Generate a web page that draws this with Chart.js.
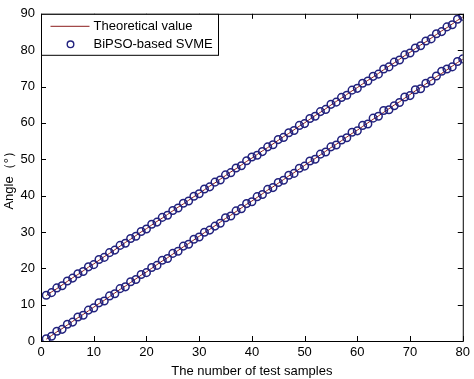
<!DOCTYPE html>
<html>
<head>
<meta charset="utf-8">
<script src="https://cdn.jsdelivr.net/npm/chart.js@4/dist/chart.umd.min.js"></script>
<style>
  html, body { margin: 0; padding: 0; background: #fff; }
  #wrap { width: 474px; height: 379px; }
</style>
</head>
<body>
<div id="wrap"><canvas id="angleChart" width="474" height="379"></canvas></div>
<script>
/* ===============================
   DATA
================================ */
const samples = [1,2,3,4,5,6,7,8,9,10,11,12,13,14,15,16,17,18,19,20,
  21,22,23,24,25,26,27,28,29,30,31,32,33,34,35,36,37,38,39,40,
  41,42,43,44,45,46,47,48,49,50,51,52,53,54,55,56,57,58,59,60,
  61,62,63,64,65,66,67,68,69,70,71,72,73,74,75,76,77,78,79,80];

const theoryUpper = [12.5,13.5,14.4,15.4,16.4,17.4,18.3,19.3,20.3,21.2,22.2,23.2,24.1,25.1,26.1,27.1,28.0,29.0,30.0,30.9,
  31.9,32.9,33.8,34.8,35.8,36.8,37.7,38.7,39.7,40.6,41.6,42.6,43.5,44.5,45.5,46.5,47.4,48.4,49.4,50.3,
  51.3,52.3,53.2,54.2,55.2,56.2,57.1,58.1,59.1,60.0,61.0,62.0,62.9,63.9,64.9,65.9,66.8,67.8,68.8,69.7,
  70.7,71.7,72.6,73.6,74.6,75.6,76.5,77.5,78.5,79.4,80.4,81.4,82.3,83.3,84.3,85.3,86.2,87.2,88.2,89.1];

const theoryLower = [0.5,1.5,2.5,3.4,4.4,5.4,6.4,7.3,8.3,9.3,10.3,11.2,12.2,13.2,14.2,15.1,16.1,17.1,18.1,19.0,
  20.0,21.0,22.0,22.9,23.9,24.9,25.9,26.8,27.8,28.8,29.8,30.7,31.7,32.7,33.7,34.6,35.6,36.6,37.6,38.5,
  39.5,40.5,41.5,42.4,43.4,44.4,45.4,46.3,47.3,48.3,49.3,50.2,51.2,52.2,53.2,54.1,55.1,56.1,57.1,58.0,
  59.0,60.0,61.0,61.9,62.9,63.9,64.9,65.8,66.8,67.8,68.8,69.7,70.7,71.7,72.7,73.6,74.6,75.6,76.6,77.5];

const svmeUpper = [12.6,13.3,14.6,15.2,16.5,17.3,18.5,19.1,20.4,21.0,22.4,23.0,24.3,25.0,26.3,26.9,28.2,28.8,30.1,30.8,
  32.1,32.7,34.0,34.6,35.9,36.6,37.9,38.5,39.8,40.5,41.8,42.4,43.7,44.3,45.7,46.3,47.6,48.2,49.6,50.6,
  51.1,52.1,53.4,54.0,55.4,56.0,57.3,57.9,59.3,59.8,61.2,61.8,63.1,63.7,65.1,65.7,67.0,67.6,69.0,69.5,
  70.9,71.5,72.8,73.4,74.8,75.4,76.7,77.3,78.7,79.2,80.6,81.2,82.5,83.1,84.5,85.1,86.4,87.0,88.5,89.3];

const svmeLower = [0.6,1.3,2.7,3.2,4.6,5.2,6.6,7.1,8.5,9.1,10.5,11.0,12.4,13.0,14.4,14.9,16.3,16.9,18.3,18.8,
  20.2,20.8,22.2,22.7,24.1,24.7,26.1,26.6,28.0,28.6,29.9,30.5,31.6,32.4,33.9,34.4,35.8,36.4,37.8,38.3,
  39.7,40.3,41.7,42.2,43.6,44.2,45.6,46.1,47.5,48.1,49.5,50.0,51.4,52.0,53.4,53.9,55.3,55.9,57.4,57.8,
  59.3,59.7,61.3,61.8,63.4,63.6,64.7,65.6,67.1,67.5,69.1,69.4,70.9,71.5,72.9,74.2,74.8,75.4,76.9,77.6];

const xTicks = [0, 10, 20, 30, 40, 50, 60, 70, 80];
const yTicks = [0, 10, 20, 30, 40, 50, 60, 70, 80, 90];

const LINE_COLOR = "#8b1c1c";
const MARK_COLOR = "#22227e";
const FONT = "'Liberation Sans', Arial, sans-serif";

const pts = (ys) => samples.map((x, i) => ({ x: x, y: ys[i] }));

/* ===============================
   MATLAB-STYLE BOX, TICKS, LEGEND
================================ */
const boxPlugin = {
  id: "box",
  afterDraw(c) {
    const { ctx, chartArea: a, scales } = c;
    ctx.save();
    ctx.strokeStyle = "#000";
    ctx.lineWidth = 1;
    ctx.strokeRect(a.left + 0.5, a.top + 0.5, a.right - a.left, a.bottom - a.top);

    // inward ticks on all four sides
    ctx.beginPath();
    xTicks.forEach(v => {
      const px = Math.round(scales.x.getPixelForValue(v)) + 0.5;
      ctx.moveTo(px, a.bottom); ctx.lineTo(px, a.bottom - 5);
      ctx.moveTo(px, a.top); ctx.lineTo(px, a.top + 5);
    });
    yTicks.forEach(v => {
      const py = Math.round(scales.y.getPixelForValue(v)) + 0.5;
      ctx.moveTo(a.left, py); ctx.lineTo(a.left + 5, py);
      ctx.moveTo(a.right, py); ctx.lineTo(a.right - 5, py);
    });
    ctx.stroke();

    // legend box, top-left inside the axes
    const lx = a.left + 0.5, ly = a.top + 0.5, lw = 177, lh = 41;
    ctx.fillStyle = "#fff";
    ctx.fillRect(lx, ly, lw, lh);
    ctx.strokeRect(lx, ly, lw, lh);

    ctx.strokeStyle = LINE_COLOR;
    ctx.beginPath();
    ctx.moveTo(lx + 9, ly + 12); ctx.lineTo(lx + 48, ly + 12);
    ctx.stroke();

    ctx.strokeStyle = MARK_COLOR;
    ctx.lineWidth = 1.4;
    ctx.beginPath();
    ctx.arc(lx + 29, ly + 30, 3.3, 0, Math.PI * 2);
    ctx.stroke();

    ctx.fillStyle = "#000";
    ctx.font = "13px " + FONT;
    ctx.textBaseline = "middle";
    ctx.fillText("Theoretical value", lx + 52, ly + 12);
    ctx.fillText("BiPSO-based SVME", lx + 52, ly + 30);
    ctx.restore();
  }
};

/* ===============================
   CHART
================================ */
const markerStyle = {
  showLine: false, order: 0,
  pointStyle: "circle", pointRadius: 3.8, pointBorderWidth: 1.5,
  pointBorderColor: MARK_COLOR, pointBackgroundColor: "rgba(0,0,0,0)"
};

new Chart(document.getElementById("angleChart"), {
  type: "line",
  data: {
    datasets: [
      Object.assign({ label: "BiPSO-based SVME", data: pts(svmeUpper) }, markerStyle),
      Object.assign({ label: "BiPSO-based SVME", data: pts(svmeLower) }, markerStyle),
      { label: "Theoretical value", data: pts(theoryUpper), order: 1,
        borderColor: LINE_COLOR, borderWidth: 1, pointRadius: 0, tension: 0 },
      { label: "Theoretical value", data: pts(theoryLower), order: 1,
        borderColor: LINE_COLOR, borderWidth: 1, pointRadius: 0, tension: 0 }
    ]
  },
  options: {
    responsive: false,
    animation: false,
    layout: { padding: { top: 7, right: 8, left: 0, bottom: 0 } },
    plugins: { legend: { display: false }, tooltip: { enabled: false } },
    scales: {
      x: {
        type: "linear", min: 0, max: 80,
        afterFit: (s) => { s.height = 38; },
        afterBuildTicks: (s) => { s.ticks = xTicks.map(v => ({ value: v })); },
        grid: { display: false, drawTicks: false },
        border: { display: false },
        ticks: { color: "#000", padding: 4, maxRotation: 0, font: { family: FONT, size: 13 } },
        title: { display: true, text: "The number of test samples", color: "#000",
                 padding: { top: 2, bottom: 0 }, font: { family: FONT, size: 13 } }
      },
      y: {
        type: "linear", min: 0, max: 90,
        afterFit: (s) => { s.width = 41; },
        afterBuildTicks: (s) => { s.ticks = yTicks.map(v => ({ value: v })); },
        grid: { display: false, drawTicks: false },
        border: { display: false },
        ticks: { color: "#000", padding: 6, font: { family: FONT, size: 13 } },
        title: { display: true, text: "Angle（°）", color: "#000",
                 padding: { top: 2, bottom: 0 }, font: { family: FONT, size: 13 } }
      }
    }
  },
  plugins: [boxPlugin]
});
</script>
</body>
</html>
